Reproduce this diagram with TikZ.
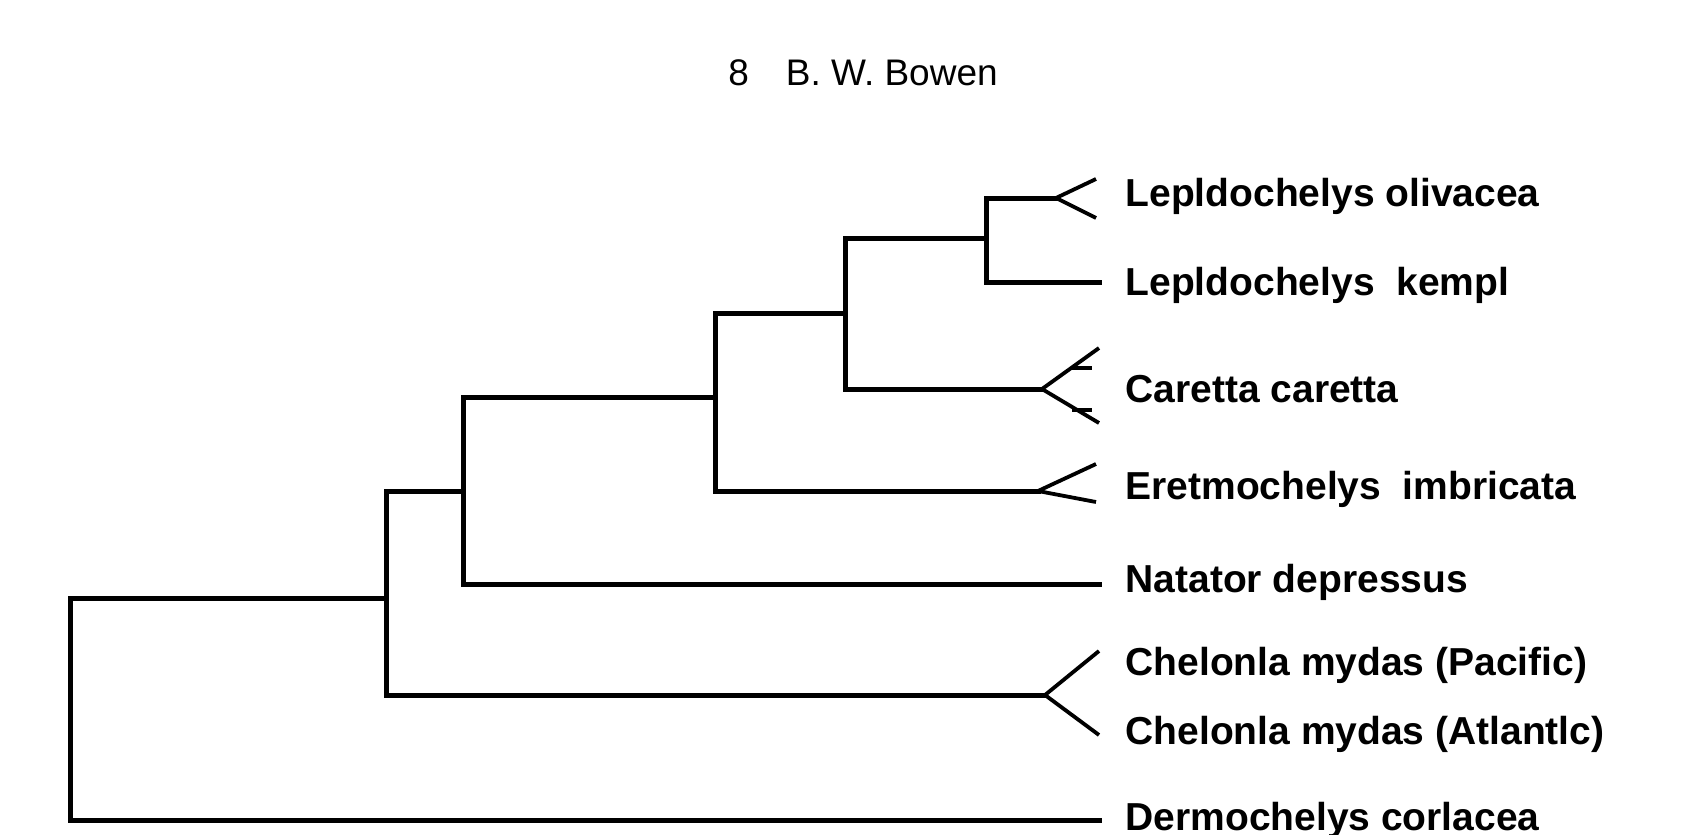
\documentclass[tikz,border=0pt]{standalone}
\usepackage{fontspec}
\setmainfont{Liberation Sans}
\begin{document}
\begin{tikzpicture}[x=1pt,y=-1pt,line width=5pt,
  br/.style={line cap=rect},
  fk/.style={line width=3.8pt},
  lab/.style={anchor=west,inner sep=0pt,font=\fontsize{39}{39}\selectfont\bfseries}]
\useasboundingbox (0,0) rectangle (1681,835);
\node (title) at (863,73) {\fontsize{37}{37}\selectfont 8\quad B. W. Bowen};
% nodes
\coordinate (r1) at (70,598); \coordinate (r2) at (70,820);
\coordinate (a1) at (386,491); \coordinate (a2) at (386,695);
\coordinate (b1) at (463,397); \coordinate (b2) at (463,584);
\coordinate (c1) at (715,313); \coordinate (c2) at (715,491);
\coordinate (d1) at (845,238); \coordinate (d2) at (845,389);
\coordinate (e1) at (986,198); \coordinate (e2) at (986,282);
% tips
\coordinate (t1) at (1056,198); \coordinate (t2) at (1099,282);
\coordinate (t3) at (1042,389); \coordinate (t4) at (1038,491);
\coordinate (t5) at (1099,584); \coordinate (t6) at (1045,695);
\coordinate (t7) at (1099,820);
\draw[br] (r1) -- (a1|-r1);
\draw[br] (r1) -- (r2) -- (t7);
\draw[br] (a1) -- (a2) -- (t6);
\draw[br] (a1) -- (b1|-a1);
\draw[br] (b1) -- (b2) -- (t5);
\draw[br] (b1) -- (c1|-b1);
\draw[br] (c1) -- (c2) -- (t4);
\draw[br] (c1) -- (d1|-c1);
\draw[br] (d1) -- (d2) -- (t3);
\draw[br] (d1) -- (e1|-d1);
\draw[br] (e1) -- (e2) -- (t2);
\draw[br] (e1) -- (t1);
% forks
\draw[fk] (t1) -- (1096,179) (t1) -- (1096,218);
\draw[fk] (t3) -- (1099,348) (t3) -- (1099,423);
\draw[fk] (1072,368) -- (1092,368) (1072,410) -- (1092,410);
\draw[fk] (t4) -- (1096,464) (t4) -- (1096,502);
\draw[fk] (t6) -- (1099,651) (t6) -- (1099,735);
% labels
\node[lab] (l1) at (1123,196) {Lepldochelys olivacea};
\node[lab] (l2) at (1123,285) {Lepldochelys\ \ kempl};
\node[lab] (l3) at (1123,389) {Caretta caretta};
\node[lab] (l4) at (1123,489) {Eretmochelys\ \ imbricata};
\node[lab] (l5) at (1123,582) {Natator depressus};
\node[lab] (l6) at (1123,665) {Chelonla mydas (Pacific)};
\node[lab] (l7) at (1123,734) {Chelonla mydas (Atlantlc)};
\node[lab] (l8) at (1123,820) {Dermochelys corlacea};
\end{tikzpicture}
\end{document}
